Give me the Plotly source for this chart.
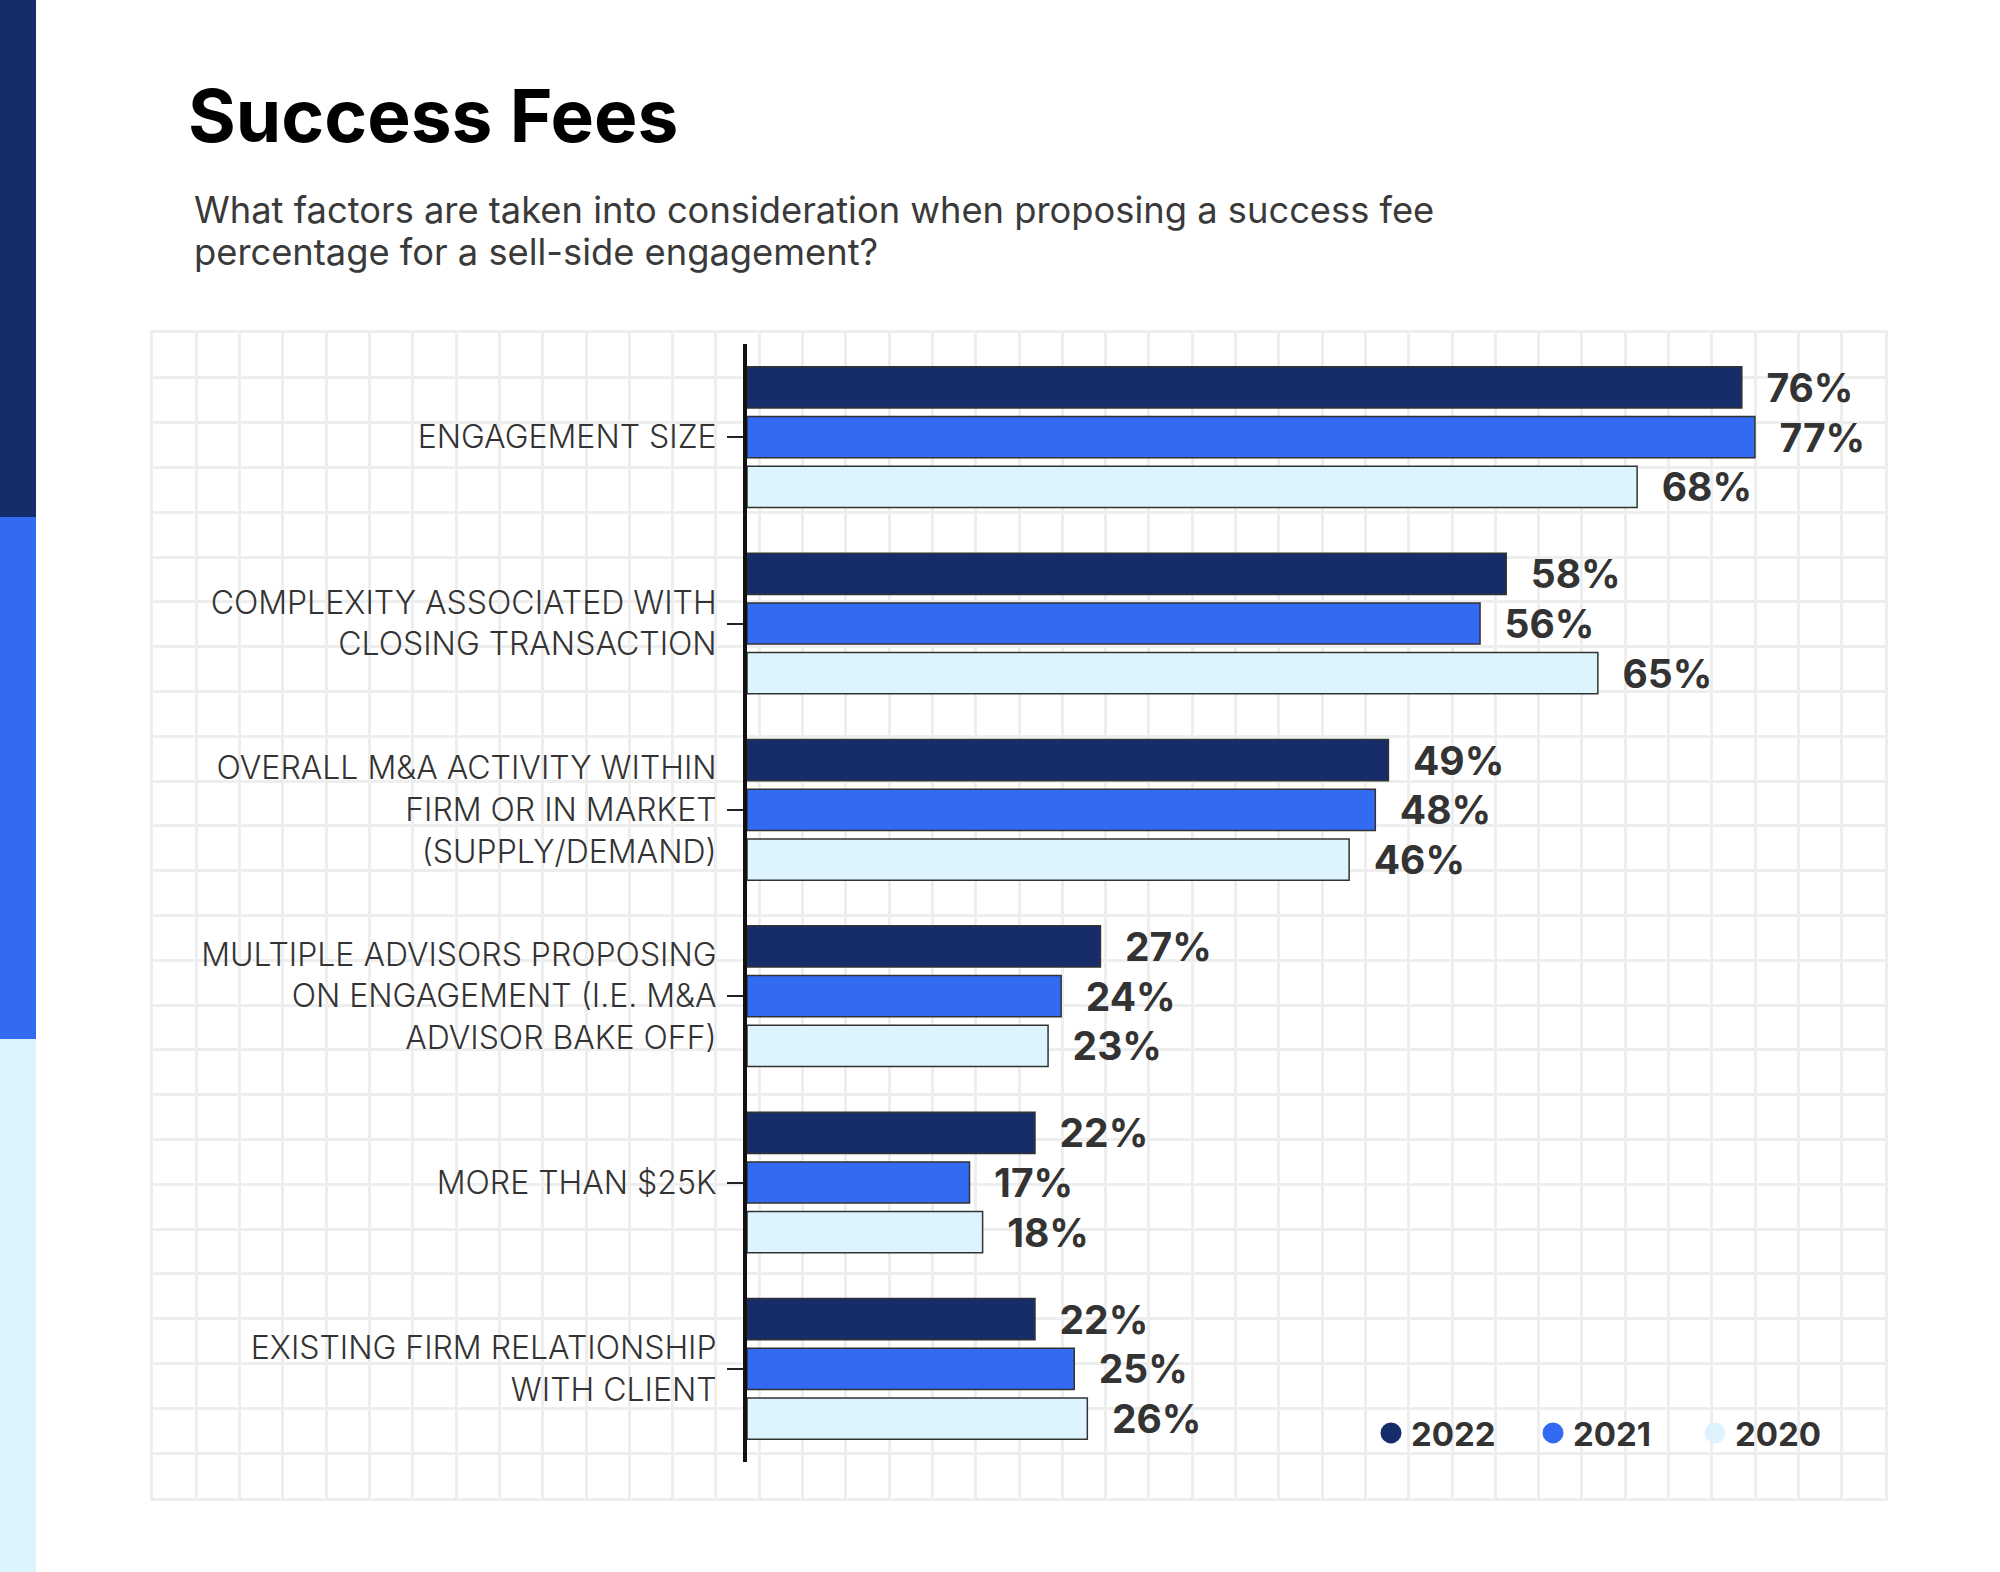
import plotly.graph_objects as go

# ---------------- data ----------------
categories = [
    "ENGAGEMENT SIZE",
    "COMPLEXITY ASSOCIATED WITH<br>CLOSING TRANSACTION",
    "OVERALL M&amp;A ACTIVITY WITHIN<br>FIRM OR IN MARKET<br>(SUPPLY/DEMAND)",
    "MULTIPLE ADVISORS PROPOSING<br>ON ENGAGEMENT (I.E. M&amp;A<br>ADVISOR BAKE OFF)",
    "MORE THAN $25K",
    "EXISTING FIRM RELATIONSHIP<br>WITH CLIENT",
]
years = ["2022", "2021", "2020"]
values_2022 = [76, 58, 49, 27, 22, 22]
values_2021 = [77, 56, 48, 24, 17, 25]
values_2020 = [68, 65, 46, 23, 18, 26]
series = [values_2022, values_2021, values_2020]
colors = {"2022": "#172d6a", "2021": "#336af2", "2020": "#ddf3fd"}

title = "Success Fees"
subtitle_lines = [
    "What factors are taken into consideration when proposing a success fee",
    "percentage for a sell-side engagement?",
]

# ---------------- layout helpers ----------------
W, H = 2000, 1572
FONT = "Inter"


def fx(p):
    return p / W


def fy(p):
    return 1 - p / H


fig = go.Figure()

# dummy trace so the background grid subplot exists
fig.add_trace(go.Scatter(x=[None], y=[None], xaxis="x", yaxis="y",
                         showlegend=False, hoverinfo="skip"))

for year, vals in zip(years, series):
    fig.add_trace(go.Bar(
        y=categories, x=vals, orientation="h", name=year,
        xaxis="x2", yaxis="y2",
        marker=dict(color=colors[year], line=dict(color="#333333", width=1.5)),
        text=[f"{v}%" for v in vals],
        texttemplate="\u00a0\u00a0\u200a%{text}",
        textposition="outside",
        textfont=dict(family=FONT, size=39, color="#333333", weight=700),
        constraintext="none", cliponaxis=False,
        showlegend=False, hoverinfo="skip",
    ))

for year in years:
    fig.add_trace(go.Scatter(
        x=[None], y=[None], mode="markers", name=year,
        xaxis="x2", yaxis="y2",
        marker=dict(size=16, color=colors[year], line=dict(color=colors[year], width=5)),
        showlegend=True, hoverinfo="skip",
    ))

grid_common = dict(showgrid=True, gridcolor="#eeeeee", gridwidth=2.5, dtick=1,
                   showticklabels=False, zeroline=False, ticks="",
                   showline=True, mirror=True, linecolor="#eeeeee", linewidth=2.5,
                   fixedrange=True)

shapes = []
strip = [(0, 517, "#172d6a"), (517, 1039, "#336af2"), (1039, H, "#ddf3fd")]
for y0, y1, c in strip:
    shapes.append(dict(type="rect", xref="paper", yref="paper", x0=0, x1=fx(36),
                       y0=fy(y1), y1=fy(y0), fillcolor=c, line=dict(width=0), layer="below"))

annotations = [
    dict(text=f"<b>{title}</b>", x=fx(186), y=fy(116), xref="paper", yref="paper",
         xanchor="left", yanchor="middle", showarrow=False,
         font=dict(family=FONT, size=73, color="#000000")),
    dict(text=subtitle_lines[0], x=fx(192), y=fy(210), xref="paper", yref="paper",
         xanchor="left", yanchor="middle", showarrow=False,
         font=dict(family=FONT, size=36.3, color="#3a3a3a")),
    dict(text=subtitle_lines[1], x=fx(192), y=fy(252), xref="paper", yref="paper",
         xanchor="left", yanchor="middle", showarrow=False,
         font=dict(family=FONT, size=36.3, color="#3a3a3a")),
]

PX_PER_PCT = 13.09
fig.update_layout(
    width=W, height=H, autosize=False,
    margin=dict(l=0, r=0, t=0, b=0),
    paper_bgcolor="white", plot_bgcolor="rgba(0,0,0,0)",
    barmode="group", bargap=0.2, bargroupgap=0.17,
    font=dict(family=FONT, color="#333333"),
    xaxis=dict(domain=[fx(153), fx(1885)], range=[0, 40], anchor="y", **grid_common),
    yaxis=dict(domain=[fy(1498), fy(333)], range=[0, 26], anchor="x", **grid_common),
    xaxis2=dict(domain=[fx(747), fx(1885)], range=[0, (1885 - 747) / PX_PER_PCT],
                anchor="y2", showgrid=False, zeroline=False, showticklabels=False,
                showline=False, ticks="", fixedrange=True),
    yaxis2=dict(domain=[fy(1462), fy(344)], anchor="x2", type="category",
                range=[5.5, -0.5], showline=True, linecolor="#111111", linewidth=4,
                ticks="outside", ticklen=16, tickwidth=2, tickcolor="#222222",
                tickfont=dict(family=FONT, size=32, color="#333333", weight=300),
                ticklabelstandoff=4, showgrid=False, zeroline=False, fixedrange=True),
    legend=dict(orientation="h", x=fx(1371), y=fy(1433), xanchor="left", yanchor="middle",
                font=dict(family=FONT, size=33, color="#333333", weight=700),
                bgcolor="rgba(0,0,0,0)", entrywidth=117, traceorder="normal"),
    shapes=shapes,
    annotations=annotations,
    showlegend=True,
)

fig.write_html("out.html")
